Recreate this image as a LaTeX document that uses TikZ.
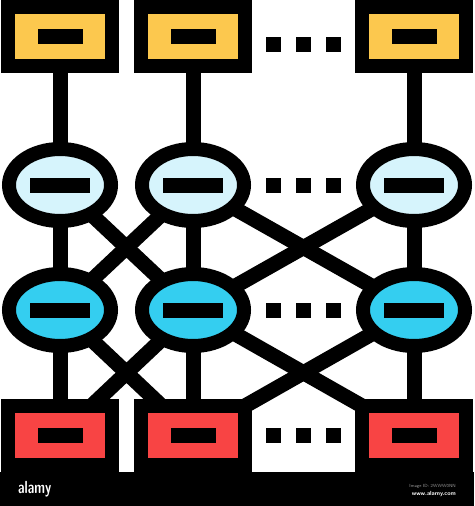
\documentclass[tikz,border=0pt]{standalone}
\usepackage{tikz}
\usetikzlibrary{shapes.geometric,backgrounds}
\definecolor{slotyellow}{RGB}{252,200,78}
\definecolor{paleblue}{RGB}{214,244,252}
\definecolor{neuroncyan}{RGB}{52,206,240}
\definecolor{slotred}{RGB}{248,68,68}

\begin{document}
\begin{tikzpicture}[
    x=1pt, y=-1pt,
    unit/.style={rectangle, draw=black, line width=14pt, minimum width=104pt, minimum height=59pt, inner sep=0pt},
    neuron/.style={ellipse, draw=black, line width=14pt, minimum width=102pt, minimum height=72pt, inner sep=0pt},
    dotsq/.style={rectangle, fill=black, minimum size=15pt, inner sep=0pt},
    link/.style={line width=15pt, black}
]
    \useasboundingbox (0,0) rectangle (474,506);
    \fill[black] (0,472) rectangle (474,506);

    % layers
    \foreach \x [count=\i] in {60,193,414} {
        \node[unit, fill=slotyellow] (in\i) at (\x,36.5) {\rule{45pt}{15pt}};
        \node[neuron, fill=paleblue] (ha\i) at (\x,185) {\rule{60pt}{15pt}};
        \node[neuron, fill=neuroncyan] (hb\i) at (\x,310) {\rule{60pt}{15pt}};
        \node[unit, fill=slotred] (out\i) at (\x,435.5) {\rule{45pt}{15pt}};
    }

    % dots
    \foreach \y [count=\r] in {44.5,185,310,435.5}
        \foreach \x [count=\c] in {273.5,303.5,333.5}
            \node[dotsq] (d\r\c) at (\x,\y) {};

    \begin{scope}[on background layer]
        \foreach \i in {1,2,3} {
            \draw[link] (in\i.center) -- (ha\i.center);
            \draw[link] (ha\i.center) -- (hb\i.center);
            \draw[link] (hb\i.center) -- (out\i.center);
        }
        \draw[link] (ha1.center) -- (hb2.center);
        \draw[link] (ha2.center) -- (hb1.center);
        \draw[link] (ha2.center) -- (hb3.center);
        \draw[link] (ha3.center) -- (hb2.center);
        \draw[link] (hb1.center) -- (out2.center);
        \draw[link] (hb2.center) -- (out1.center);
        \draw[link] (hb2.center) -- (out3.center);
        \draw[link] (hb3.center) -- (out2.center);
    \end{scope}

    % banner
    \node[font=\sffamily\bfseries\fontsize{13}{13}\selectfont, text=white, anchor=west, inner sep=0pt, xscale=0.95, yscale=1.35] (brand) at (18,489) {alamy};
    \node[font=\sffamily\fontsize{4.5}{5}\selectfont, text=gray!80, anchor=east, inner sep=0pt] (imgid) at (456,486) {Image ID: 2WWW0NN};
    \node[font=\sffamily\bfseries\fontsize{6}{6}\selectfont, text=white, anchor=east, inner sep=0pt] (site) at (456,494) {www.alamy.com};
\end{tikzpicture}
\end{document}
